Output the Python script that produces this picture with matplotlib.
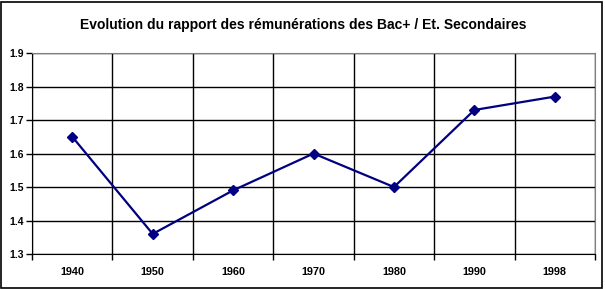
import numpy as np
import matplotlib.pyplot as plt
from matplotlib.patches import Rectangle

# data
years = ['1940', '1950', '1960', '1970', '1980', '1990', '1998']
ratio = [1.65, 1.36, 1.49, 1.60, 1.50, 1.73, 1.77]

plt.rcParams['font.family'] = ['Liberation Sans', 'DejaVu Sans']

fig = plt.figure(figsize=(6.05, 2.89), dpi=100)
fig.patches.append(Rectangle((0.002, 0.004), 0.993, 0.99, transform=fig.transFigure,
                             fill=False, edgecolor='black', linewidth=1.2))

ax = fig.add_axes([0.053, 0.121, 0.9305, 0.6955])
x = np.arange(len(years))
ax.plot(x, ratio, color='#000080', linewidth=1.6, marker='D', markersize=5.5)

ax.set_xlim(-0.5, len(years) - 0.5)
ax.set_ylim(1.3, 1.9)
ax.set_yticks(np.arange(1.3, 1.91, 0.1))
ax.set_yticklabels(['%.1f' % v for v in np.arange(1.3, 1.91, 0.1)], fontsize=7.5, fontweight='bold')
ax.set_xticks(x)
ax.set_xticklabels(years, fontsize=7.8, fontweight='bold')
ax.tick_params(axis='x', which='major', length=0, pad=9)
ax.set_xticks(np.arange(-0.5, len(years)), minor=True)
ax.tick_params(axis='x', which='minor', length=4, direction='out', width=1)
ax.tick_params(axis='y', length=4, direction='out', width=1, pad=2)

ax.grid(True, axis='y', color='black', linewidth=1)
ax.grid(True, axis='x', which='minor', color='black', linewidth=1)
ax.set_axisbelow(True)
for side in ['top', 'right']:
    ax.spines[side].set_color('#808080')
for side in ['left', 'bottom']:
    ax.spines[side].set_color('black')

fig.text(0.502, 0.913, 'Evolution du rapport des rémunérations des Bac+ / Et. Secondaires',
         ha='center', va='center', fontsize=10, fontweight='bold')

fig.savefig('out.png', dpi=100)
